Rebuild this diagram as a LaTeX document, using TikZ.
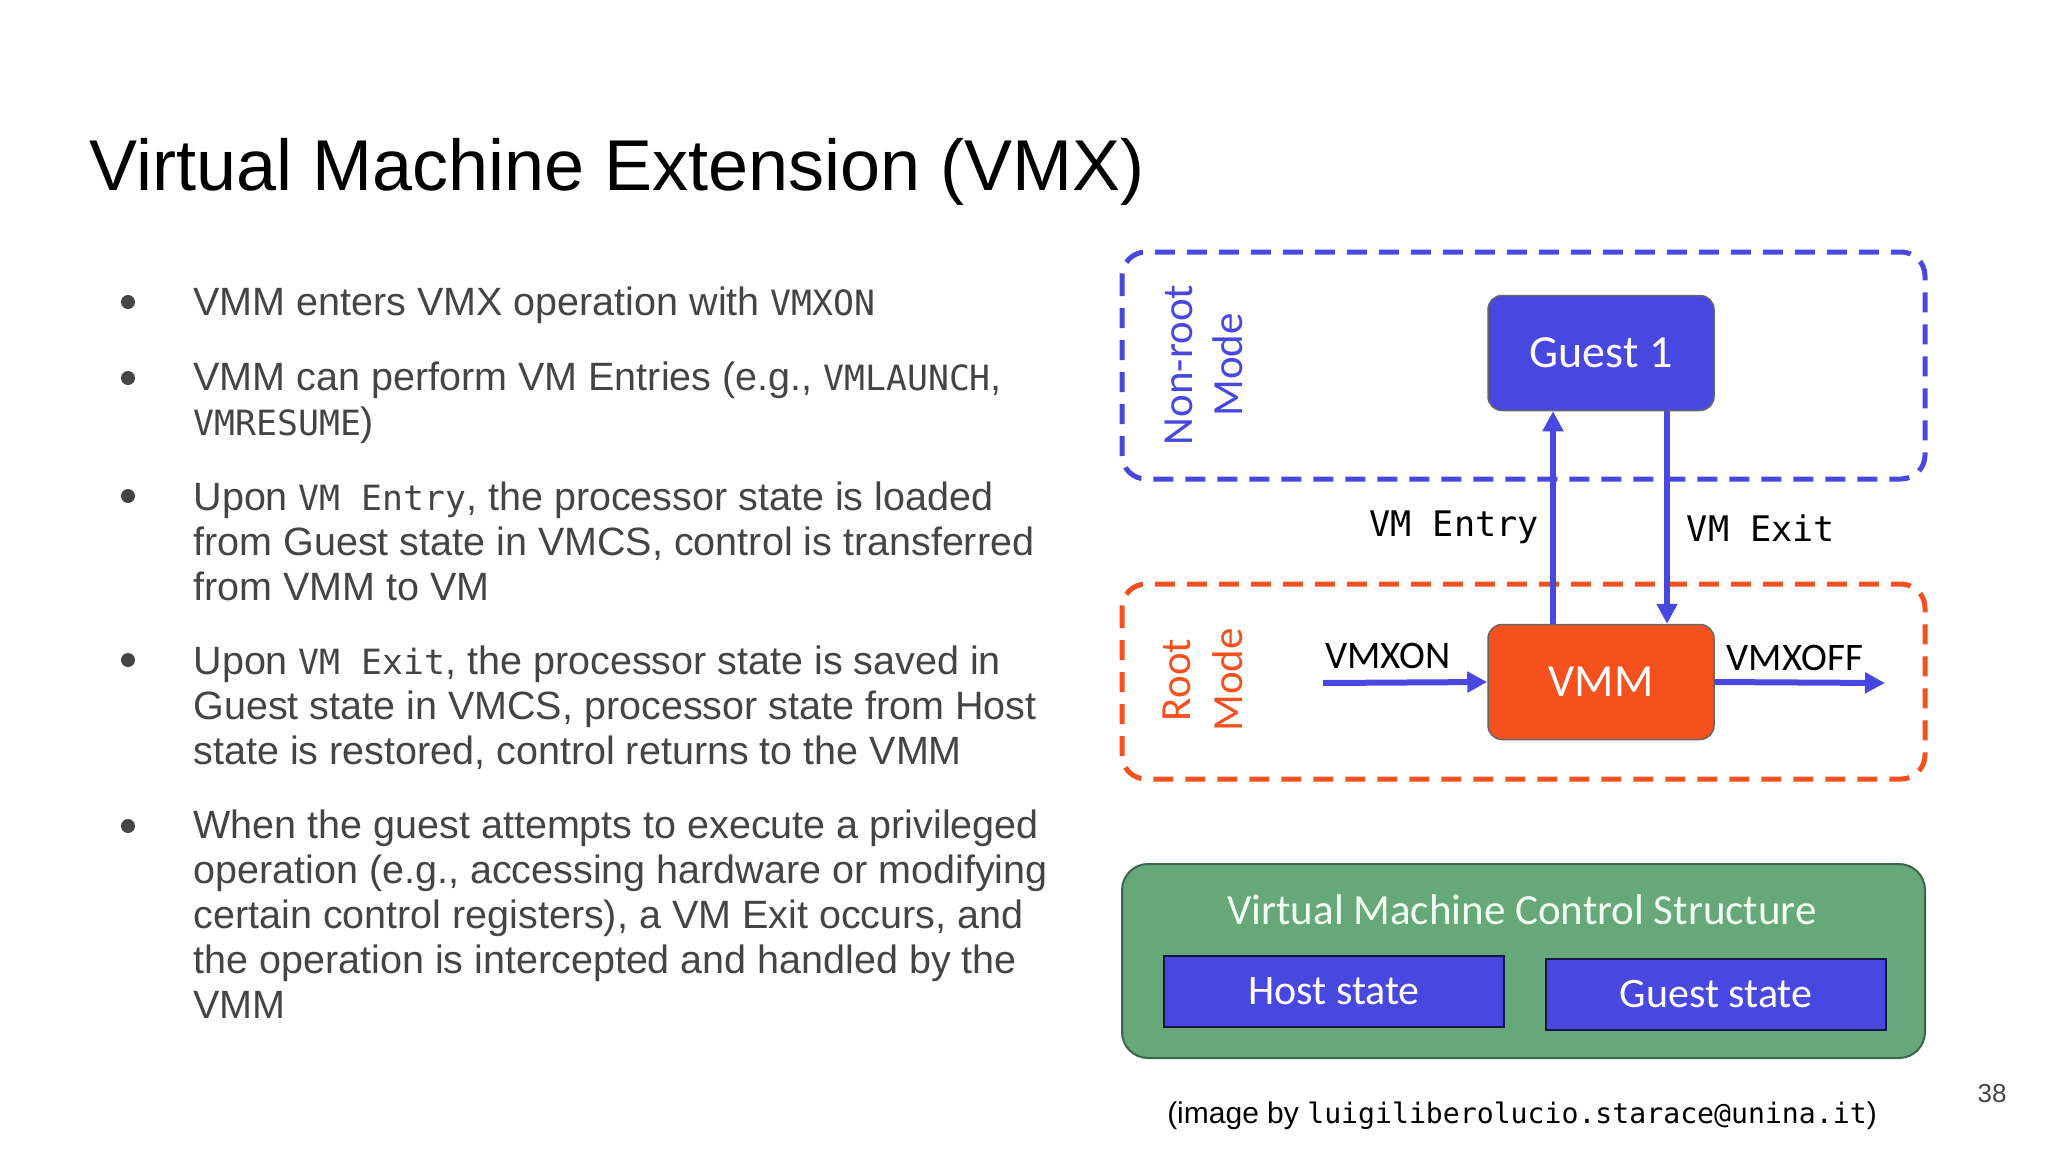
\documentclass[tikz,border=0pt]{standalone}
\usepackage{fontspec}
\setmainfont{Liberation Sans}
\newfontfamily\diag{Carlito}
\setmonofont{DejaVu Sans Mono}[Scale=0.88]
\usetikzlibrary{arrows.meta}
\definecolor{vmblue}{HTML}{4848E0}
\definecolor{vmorange}{HTML}{F4511E}
\definecolor{vmgreen}{HTML}{66A87A}
\definecolor{bodygray}{HTML}{444444}
\tikzset{
  mode/.style={draw, dashed, line width=5pt, dash pattern=on 20pt off 12pt, rounded corners=24pt},
  block/.style={draw=black!60, line width=1.5pt, rounded corners=14pt, text=white,
    font=\diag\fontsize{46}{46}\selectfont, minimum width=226pt, minimum height=115pt},
  state/.style={draw=black!70!vmblue, line width=2pt, fill=vmblue, text=white,
    font=\diag\fontsize{42}{42}\selectfont, minimum width=340pt, minimum height=71pt},
  flow/.style={vmblue, line width=6pt, -{Triangle[length=20pt,width=20pt]}},
  lbl/.style={font=\diag\fontsize{39}{39}\selectfont},
  side/.style={rotate=90, font=\diag\fontsize{43}{43}\selectfont},
  mlbl/.style={font=\ttfamily\fontsize{40}{40}\selectfont},
  bul/.style={anchor=base west, text=bodygray, font=\fontsize{39.5}{45}\selectfont},
}
\begin{document}
\begin{tikzpicture}[x=1pt,y=-1pt]
  \useasboundingbox (0,0) rectangle (2048,1152);
  \node (title) [anchor=base west, font=\fontsize{72}{72}\selectfont] at (86,190) {Virtual Machine Extension (VMX)};
  % bullets
  \foreach \y in {302,378,496,660,826}
    \fill[bodygray] (128,\y) circle (7pt);
  \node (b1) [bul] at (190,315) {VMM enters VMX operation with \texttt{VMXON}};
  \node (b2) [bul] at (190,390) {VMM can perform VM Entries (e.g., \texttt{VMLAUNCH},};
  \node (b2b) [bul] at (190,435) {\texttt{VMRESUME})};
  \node (b3) [bul] at (190,510) {Upon \texttt{VM Entry}, the processor state is loaded};
  \node (b3b) [bul] at (190,555) {from Guest state in VMCS, control is transferred};
  \node (b3c) [bul] at (190,600) {from VMM to VM};
  \node (b4) [bul] at (190,674) {Upon \texttt{VM Exit}, the processor state is saved in};
  \node (b4b) [bul] at (190,719) {Guest state in VMCS, processor state from Host};
  \node (b4c) [bul] at (190,764) {state is restored, control returns to the VMM};
  \node (b5) [bul] at (190,838) {When the guest attempts to execute a privileged};
  \node (b5b) [bul] at (190,883) {operation (e.g., accessing hardware or modifying};
  \node (b5c) [bul] at (190,928) {certain control registers), a VM Exit occurs, and};
  \node (b5d) [bul] at (190,973) {the operation is intercepted and handled by the};
  \node (b5e) [bul] at (190,1018) {VMM};
  % modes
  \draw[mode, vmblue] (1122,252) rectangle (1925,479);
  \draw[mode, vmorange] (1122,584) rectangle (1925,779);
  \node (nr1) [side, text=vmblue] at (1179,365) {Non-root};
  \node (nr2) [side, text=vmblue] at (1228,365) {Mode};
  \node (r1) [side, text=vmorange] at (1177,680) {Root};
  \node (r2) [side, text=vmorange] at (1228,680) {Mode};
  \node (guest) [block, fill=vmblue] at (1601,353) {Guest 1};
  \node (vmm) [block, fill=vmorange] at (1601,682) {VMM};
  \draw[flow] (vmm.north -| 1553,0) -- (guest.south -| 1553,0);
  \draw[flow] (guest.south -| 1667,0) -- (vmm.north -| 1667,0);
  \node (entry) [mlbl] at (1454,527) {VM Entry};
  \node (exit) [mlbl] at (1761,528) {VM Exit};
  \coordinate (on) at (1323,683);
  \coordinate (off) at (1885,683);
  \draw[flow] (on) -- (vmm.west);
  \draw[flow] (vmm.east) -- (off);
  \node (vmxon) [lbl] at (1388,656) {VMXON};
  \node (vmxoff) [lbl] at (1795,658) {VMXOFF};
  % VMCS
  \draw[draw=black!40!vmgreen, line width=2pt, fill=vmgreen, rounded corners=26pt] (1122,864) rectangle (1925,1058);
  \node (vmcs) [text=green!5, font=\diag\fontsize{43}{43}\selectfont] at (1522,910) {Virtual Machine Control Structure};
  \node (host) [state] at (1334,991) {Host state};
  \node (gstate) [state] at (1716,994) {Guest state};
  \node (cap) [font=\fontsize{30}{30}\selectfont] at (1522,1116) {(image by \texttt{\fontsize{32}{32}\selectfont luigiliberolucio.starace@unina.it})};
  \node (page) [text=bodygray, font=\fontsize{26}{26}\selectfont] at (1992,1094) {38};
\end{tikzpicture}
\end{document}
